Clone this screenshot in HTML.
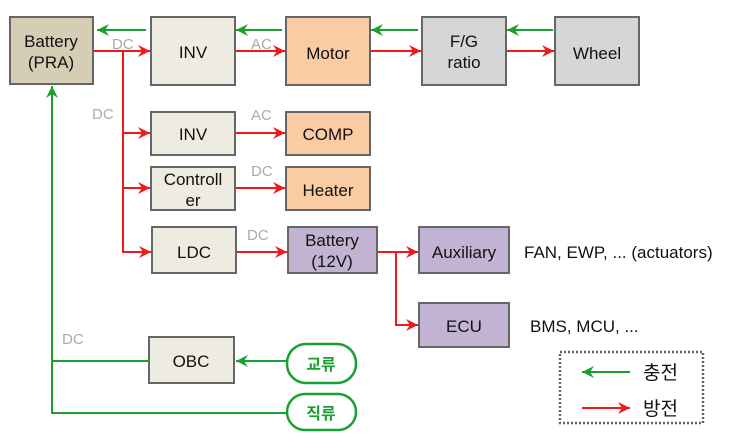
<!DOCTYPE html>
<html><head><meta charset="utf-8"><style>
html,body{margin:0;padding:0;background:#fff;}
svg{display:block;}
text{font-family:"Liberation Sans","Noto Sans CJK KR",sans-serif;}
</style></head><body>
<svg width="745" height="434" viewBox="0 0 745 434" xmlns="http://www.w3.org/2000/svg">
<defs>
<marker id="r" viewBox="0 0 12 12" refX="12" refY="6" markerWidth="12" markerHeight="12" markerUnits="userSpaceOnUse" orient="auto"><path d="M0,0 L12,6 L0,12 L4,6 z" fill="#f01818"/></marker>
<marker id="g" viewBox="0 0 12 12" refX="12" refY="6" markerWidth="12" markerHeight="12" markerUnits="userSpaceOnUse" orient="auto"><path d="M0,0 L12,6 L0,12 L4,6 z" fill="#1aa030"/></marker>
</defs>
<g stroke="#666" stroke-width="2">
<rect x="10" y="17" width="83" height="67" fill="#d5cdb4"/>
<rect x="151" y="17" width="84" height="68" fill="#eeece0"/>
<rect x="286" y="17" width="84" height="68" fill="#fbcba3"/>
<rect x="422" y="17" width="84" height="68" fill="#d6d6d6"/>
<rect x="555" y="17" width="84" height="68" fill="#d6d6d6"/>
<rect x="151" y="112" width="84" height="43" fill="#eeece0"/>
<rect x="286" y="112" width="84" height="43" fill="#fbcba3"/>
<rect x="151" y="167" width="84" height="43" fill="#eeece0"/>
<rect x="286" y="167" width="84" height="43" fill="#fbcba3"/>
<rect x="152" y="227" width="84" height="46" fill="#eeece0"/>
<rect x="288" y="227" width="89" height="46" fill="#c2b3d2"/>
<rect x="419" y="227" width="90" height="46" fill="#c2b3d2"/>
<rect x="419" y="303" width="90" height="44" fill="#c2b3d2"/>
<rect x="149" y="337" width="85" height="46" fill="#eeece0"/>
</g>
<g fill="none" stroke="#1aa030" stroke-width="2.5">
<rect x="287" y="344" width="69" height="39" rx="19"/>
<rect x="287" y="394" width="69" height="36" rx="18"/>
</g>
<rect x="560" y="352" width="143" height="71" fill="none" stroke="#666" stroke-width="2.5" stroke-dasharray="2,2"/>
<g stroke="#1aa030" stroke-width="2" fill="none">
<line x1="146" y1="30" x2="97" y2="30" marker-end="url(#g)"/>
<line x1="282" y1="30" x2="236" y2="30" marker-end="url(#g)"/>
<line x1="418" y1="30" x2="371" y2="30" marker-end="url(#g)"/>
<line x1="553" y1="30" x2="507" y2="30" marker-end="url(#g)"/>
<polyline points="287,413 52,413 52,86" marker-end="url(#g)"/>
<line x1="52" y1="361" x2="149" y2="361"/>
<line x1="287" y1="361" x2="236" y2="361" marker-end="url(#g)"/>
<line x1="630" y1="372" x2="582" y2="372" marker-end="url(#g)"/>
</g>
<g stroke="#f01818" stroke-width="2" fill="none">
<line x1="94" y1="51" x2="150" y2="51" marker-end="url(#r)"/>
<line x1="236" y1="51" x2="285" y2="51" marker-end="url(#r)"/>
<line x1="371" y1="51" x2="421" y2="51" marker-end="url(#r)"/>
<line x1="507" y1="51" x2="554" y2="51" marker-end="url(#r)"/>
<polyline points="123,51 123,252 151,252" marker-end="url(#r)"/>
<line x1="123" y1="133" x2="150" y2="133" marker-end="url(#r)"/>
<line x1="123" y1="188" x2="150" y2="188" marker-end="url(#r)"/>
<line x1="236" y1="133" x2="285" y2="133" marker-end="url(#r)"/>
<line x1="236" y1="188" x2="285" y2="188" marker-end="url(#r)"/>
<line x1="237" y1="252" x2="287" y2="252" marker-end="url(#r)"/>
<line x1="378" y1="252" x2="418" y2="252" marker-end="url(#r)"/>
<polyline points="396,252 396,325 418,325" marker-end="url(#r)"/>
<line x1="582" y1="408" x2="630" y2="408" marker-end="url(#r)"/>
</g>
<g font-size="17" fill="#111" text-anchor="middle">
<text x="51" y="47">Battery</text><text x="51" y="68">(PRA)</text>
<text x="193" y="58">INV</text>
<text x="328" y="59">Motor</text>
<text x="464" y="47">F/G</text><text x="464" y="68">ratio</text>
<text x="597" y="59">Wheel</text>
<text x="193" y="140">INV</text>
<text x="328" y="140">COMP</text>
<text x="193" y="185">Controll</text><text x="193" y="206">er</text>
<text x="328" y="196">Heater</text>
<text x="194" y="258">LDC</text>
<text x="332" y="246">Battery</text><text x="332" y="267">(12V)</text>
<text x="464" y="258">Auxiliary</text>
<text x="464" y="332">ECU</text>
<text x="191" y="367">OBC</text>
</g>
<g font-size="17" fill="#111">
<text x="524" y="258">FAN, EWP, ... (actuators)</text>
<text x="530" y="332">BMS, MCU, ...</text>
<text x="643" y="379" font-size="19">충전</text>
<text x="643" y="415" font-size="19">방전</text>
</g>
<g font-size="16" fill="#1aa030" font-weight="bold" text-anchor="middle">
<text x="321" y="370">교류</text>
<text x="321" y="419">직류</text>
</g>
<g font-size="15" fill="#aaa">
<text x="112" y="49">DC</text>
<text x="251" y="49">AC</text>
<text x="92" y="119">DC</text>
<text x="251" y="120">AC</text>
<text x="251" y="176">DC</text>
<text x="247" y="240">DC</text>
<text x="62" y="344">DC</text>
</g>
</svg>
</body></html>
